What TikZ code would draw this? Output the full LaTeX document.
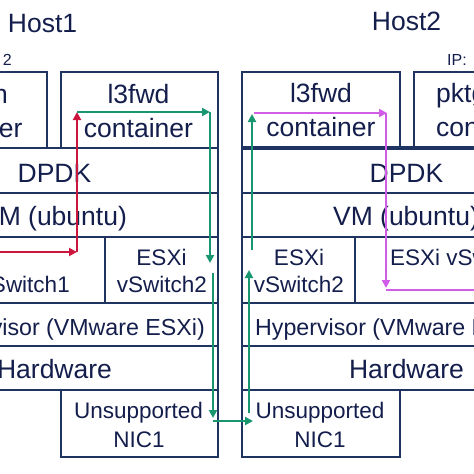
\documentclass[tikz,border=0pt]{standalone}
\usepackage{fontspec}
\setmainfont{Liberation Sans}
\usetikzlibrary{arrows.meta}
\definecolor{navy}{RGB}{31,52,96}
\definecolor{txt}{RGB}{20,30,76}
\definecolor{rd}{RGB}{204,22,62}
\definecolor{gr}{RGB}{24,150,112}
\definecolor{mg}{RGB}{208,92,232}
\tikzset{
 box/.style={draw=navy, line width=2pt},
 big/.style={text=txt, font=\fontsize{26.5}{30}\selectfont, inner sep=0pt},
 mid/.style={text=txt, font=\fontsize{22.5}{26}\selectfont, inner sep=0pt},
 hyp/.style={text=txt, font=\fontsize{23.2}{26}\selectfont, inner sep=0pt},
 small/.style={text=txt, font=\fontsize{16}{18}\selectfont, inner sep=0pt},
 flow/.style={line width=2pt, -{Triangle[length=8pt,width=8pt]}},
 plain/.style={line width=2pt},
}
\begin{document}
\begin{tikzpicture}[x=1pt,y=-1pt]
\useasboundingbox (0,0) rectangle (474,474);
\clip (0,0) rectangle (474,474);
\fill[white] (0,0) rectangle (474,474);

% ---------- Host1 boxes ----------
\draw[box] (-110,72) rectangle (47,148);
\draw[box] (61,72) rectangle (218,148);
\draw[box] (-110,148) rectangle (218,193);
\draw[box] (-110,193) rectangle (218,237);
\draw[box] (-110,237) rectangle (105,303);
\draw[box] (105,237) rectangle (218,303);
\draw[box] (-110,303) rectangle (218,346);
\draw[box] (-110,346) rectangle (218,390);
\draw[box] (61,390) rectangle (218,457);

% ---------- Host2 boxes ----------
\draw[box] (242,72) rectangle (400,148);
\draw[box] (414,72) rectangle (571,148);
\draw[box] (242,148) rectangle (571,193);
\draw[box] (242,193) rectangle (571,237);
\draw[box] (242,237) rectangle (355,303);
\draw[box] (355,237) rectangle (571,303);
\draw[box] (242,303) rectangle (571,346);
\draw[box] (242,346) rectangle (571,390);
\draw[box] (242,390) rectangle (400,457);
\draw[navy, line width=3.5pt] (242,148) -- (571,148);

% ---------- Host1 texts ----------
\node[big, anchor=base] (h1) at (42.5,32) {Host1};
\node[small, anchor=base east] (ip1) at (12,65) {2};
\node[big, anchor=base] (pk1a) at (-32,103) {pktgen};
\node[big, anchor=base] (pk1b) at (-32,137) {container};
\node[big, anchor=base] (l1a) at (138.5,103) {l3fwd};
\node[big, anchor=base] (l1b) at (138.5,137) {container};
\node[big, anchor=base] (dp1) at (54.5,182) {DPDK};
\node[big, anchor=base] (vm1) at (54,225) {VM (ubuntu)};
\node[mid, anchor=base east] (vs1) at (70,292) {ESXi vSwitch1};
\node[mid, anchor=base] (vs2a) at (161.5,265) {ESXi};
\node[mid, anchor=base] (vs2b) at (162,292) {vSwitch2};
\node[hyp, anchor=base east] (hy1) at (205,335) {Hypervisor (VMware ESXi)};
\node[big, anchor=base] (hw1) at (54.5,378) {Hardware};
\node[mid, anchor=base] (nic1a) at (138.5,418) {Unsupported};
\node[mid, anchor=base] (nic1b) at (139,447) {NIC1};

% ---------- Host2 texts ----------
\node[big, anchor=base] (h2) at (406.5,30) {Host2};
\node[small, anchor=base west] (ip2) at (447,65) {IP:};
\node[big, anchor=base] (l2a) at (321,102) {l3fwd};
\node[big, anchor=base] (l2b) at (321,136) {container};
\node[big, anchor=base west] (pk2a) at (436,102) {pktgen};
\node[big, anchor=base west] (pk2b) at (436,136) {container};
\node[big, anchor=base] (dp2) at (406.5,182) {DPDK};
\node[big, anchor=base] (vm2) at (406,225) {VM (ubuntu)};
\node[mid, anchor=base] (vs2c) at (299,265) {ESXi};
\node[mid, anchor=base] (vs2d) at (299,292) {vSwitch2};
\node[mid, anchor=base west] (vs1b) at (390,265) {ESXi vSwitch1};
\node[hyp, anchor=base west] (hy2) at (255,335) {Hypervisor (VMware ESXi)};
\node[big, anchor=base] (hw2) at (406.5,378) {Hardware};
\node[mid, anchor=base] (nic2a) at (320,418) {Unsupported};
\node[mid, anchor=base] (nic2b) at (320,447) {NIC1};

% ---------- flow coordinates ----------
\coordinate (r0) at (-20,252);
\coordinate (r1) at (77,252);
\coordinate (r2) at (77,112);
\coordinate (g1) at (77,112);
\coordinate (g2) at (210,112);
\coordinate (g3) at (210,263);
\coordinate (g4) at (213,273);
\coordinate (g5) at (213,418);
\coordinate (g6) at (213,421);
\coordinate (g7) at (253,421);
\coordinate (g8) at (249,413);
\coordinate (g9) at (249,270);
\coordinate (g10) at (252,250);
\coordinate (g11) at (252,114);
\coordinate (m1) at (254,113);
\coordinate (m2) at (387,113);
\coordinate (m3) at (386,113);
\coordinate (m4) at (386,288);
\coordinate (m5) at (386,290);
\coordinate (m6) at (500,290);

% red
\draw[flow, rd] (r0) -- (r1);
\draw[flow, rd] (r1) -- (r2);
% green
\draw[flow, gr] (g1) -- (g2);
\draw[flow, gr] (g2) -- (g3);
\draw[flow, gr] (g4) -- (g5);
\draw[flow, gr] (g6) -- (g7);
\draw[flow, gr] (g8) -- (g9);
\draw[flow, gr] (g10) -- (g11);
% magenta
\draw[flow, mg] (m1) -- (m2);
\draw[flow, mg] (m3) -- (m4);
\draw[plain, mg] (m5) -- (m6);
\end{tikzpicture}
\end{document}
